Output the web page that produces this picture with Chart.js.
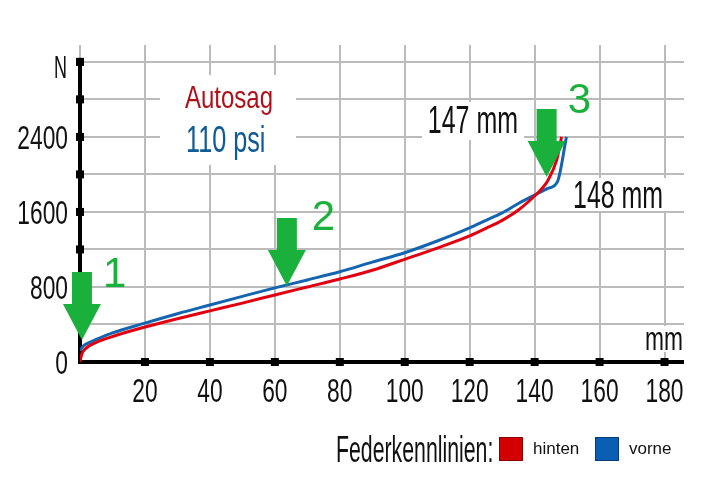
<!DOCTYPE html>
<html>
<head>
<meta charset="utf-8">
<script src="https://cdn.jsdelivr.net/npm/chart.js@4/dist/chart.umd.min.js"></script>
<style>
    body { margin: 0; background: #fff; }
    #chart { display: block; }
</style>
</head>
<body>
<canvas id="chart" width="712" height="483"></canvas>
<script>
/* ========================================
   Federkennlinien - hinten / vorne
   ======================================== */

// Federweg (mm) und Kraft (N), hinten
const hintenMm = [0, 0.5, 1.5, 3, 5, 10, 20, 30, 40, 50, 60, 70, 80, 90, 100, 110, 120, 125, 130, 135, 140, 142, 144, 146.8, 148.3];
const hintenN  = [0, 80, 135, 175, 210, 272, 373, 462, 545, 628, 715, 800, 885, 978, 1095, 1215, 1345, 1425, 1510, 1620, 1770, 1840, 1930, 2155, 2400];

// Federweg (mm) und Kraft (N), vorne
const vorneMm = [0, 1, 3, 5, 10, 20, 30, 40, 50, 60, 70, 80, 90, 100, 110, 120, 125, 130, 135, 140, 144, 147, 149.8];
const vorneN  = [120, 170, 210, 240, 310, 415, 515, 608, 700, 790, 875, 962, 1065, 1165, 1290, 1430, 1510, 1590, 1690, 1780, 1850, 1920, 2400];

const seriesLabels = ['hinten', 'vorne'];
const lineColors = ['#e00010', '#1464b0'];
const legendColors = ['#d20000', '#0a5fb4'];

// Achsen
const xTickValues = [20, 40, 60, 80, 100, 120, 140, 160, 180];
const yTickValues = [0, 800, 1600, 2400];
const yUnit = 'N';
const xUnit = 'mm';

// Pfeile (Spitze in Daten-Koordinaten)
const arrowLabels = ['1', '2', '3'];
const arrowMm = [0.6, 63.7, 143.7];
const arrowN = [235, 811, 1973];

const GREEN = '#19b03b';
const SANS = '"Liberation Sans", Arial, sans-serif';

function drawText(ctx, text, x, y, size, color, align, sx) {
    ctx.save();
    ctx.translate(x, y);
    ctx.scale(sx || 1, 1);
    ctx.font = size + 'px ' + SANS;
    ctx.fillStyle = color;
    ctx.textAlign = align || 'left';
    ctx.textBaseline = 'alphabetic';
    ctx.fillText(text, 0, 0);
    ctx.restore();
}

function whiteBox(ctx, x1, y1, x2, y2) {
    ctx.fillStyle = '#ffffff';
    ctx.fillRect(x1, y1, x2 - x1, y2 - y1);
}

function drawArrow(ctx, tx, ty) {
    const sw = 20, hw = 38, hh = 36, sl = 32;
    ctx.fillStyle = GREEN;
    ctx.beginPath();
    ctx.moveTo(tx, ty);
    ctx.lineTo(tx - hw / 2, ty - hh);
    ctx.lineTo(tx - sw / 2, ty - hh);
    ctx.lineTo(tx - sw / 2, ty - hh - sl);
    ctx.lineTo(tx + sw / 2, ty - hh - sl);
    ctx.lineTo(tx + sw / 2, ty - hh);
    ctx.lineTo(tx + hw / 2, ty - hh);
    ctx.closePath();
    ctx.fill();
}

const decorPlugin = {
    id: 'decor',
    beforeDatasetsDraw(chart) {
        const ctx = chart.ctx;
        const xs = chart.scales.x, ys = chart.scales.y;
        const px = v => xs.getPixelForValue(v);
        const py = v => ys.getPixelForValue(v);

        // Textfelder mit weissem Hintergrund
        whiteBox(ctx, 160, 75, 296, 165);
        whiteBox(ctx, 422, 102, 524, 140);
        whiteBox(ctx, 568, 178, 668, 211);
        whiteBox(ctx, 645, 326, 684, 352);

        // Achsenlinien
        ctx.fillStyle = '#000';
        const x0 = px(0), y0 = py(0);
        ctx.fillRect(x0 - 2, py(3200) - 4, 4, y0 - py(3200) + 6);
        ctx.fillRect(x0 - 2, y0 - 2, chart.chartArea.right - x0 + 2, 4);

        // Tick-Quadrate
        ys.ticks.forEach(t => {
            if (t.value > 0) ctx.fillRect(x0 - 4, py(t.value) - 4, 8, 8);
        });
        xs.ticks.forEach(t => {
            if (t.value > 0) ctx.fillRect(px(t.value) - 4, y0 - 4, 8, 8);
        });
    },
    afterDatasetsDraw(chart) {
        const ctx = chart.ctx;
        const xs = chart.scales.x, ys = chart.scales.y;
        const px = v => xs.getPixelForValue(v);
        const py = v => ys.getPixelForValue(v);

        // Pfeile + Nummern
        const offs = [[21, -53], [25, -56], [21, -64]];
        arrowLabels.forEach((lab, i) => {
            const tx = px(arrowMm[i]), ty = py(arrowN[i]);
            drawArrow(ctx, tx, ty);
            drawText(ctx, lab, tx + offs[i][0], ty + offs[i][1], 42, GREEN, 'left', 1);
        });

        // Beschriftungen
        drawText(ctx, 'Autosag', 185, 108, 32, '#b0101a', 'left', 0.75);
        drawText(ctx, '110 psi', 186, 152, 36, '#105a96', 'left', 0.70);
        drawText(ctx, '147 mm', 518, 133, 39, '#111', 'right', 0.64);
        drawText(ctx, '148 mm', 573, 208, 39, '#111', 'left', 0.64);

        // Achsbeschriftungen
        yTickValues.forEach(v => {
            drawText(ctx, String(v), 68, py(v) + 12, 34, '#111', 'right', 0.67);
        });
        drawText(ctx, yUnit, 67, py(3200) + 16, 31, '#111', 'right', 0.58);
        xTickValues.forEach(v => {
            drawText(ctx, String(v), px(v), 402, 34, '#111', 'center', 0.67);
        });
        drawText(ctx, xUnit, 683, 350, 34, '#111', 'right', 0.67);

        // Legende
        drawText(ctx, 'Federkennlinien:', 336, 462, 37, '#111', 'left', 0.575);
        const legX = [499, 595];
        seriesLabels.forEach((lab, i) => {
            ctx.fillStyle = legendColors[i];
            ctx.fillRect(legX[i], 437, 24, 24);
            ctx.strokeStyle = 'rgba(0,0,0,0.35)';
            ctx.lineWidth = 1;
            ctx.strokeRect(legX[i] + 0.5, 437.5, 23, 23);
            drawText(ctx, lab, legX[i] + 34, 454, 17, '#111', 'left', 1);
        });
    }
};

function toPoints(xs, ys) {
    return xs.map((x, i) => ({ x: x, y: ys[i] }));
}

// Gitterlinien in festen Schritten bis zum letzten vollen Schritt
function stepTicks(scale, step) {
    const ticks = [];
    for (let v = 0; v <= scale.max; v += step) ticks.push({ value: v });
    scale.ticks = ticks;
}

function initFederChart() {
    const ctx = document.getElementById('chart');

    const data = {
        datasets: [
            {
                label: seriesLabels[0],
                data: toPoints(hintenMm, hintenN),
                borderColor: lineColors[0],
                borderWidth: 3,
                cubicInterpolationMode: 'monotone',
                pointRadius: 0,
                fill: false
            },
            {
                label: seriesLabels[1],
                data: toPoints(vorneMm, vorneN),
                borderColor: lineColors[1],
                borderWidth: 3,
                cubicInterpolationMode: 'monotone',
                pointRadius: 0,
                fill: false
            }
        ]
    };

    const gridStyle = {
        color: '#bbbbbb',
        lineWidth: 2,
        drawTicks: false
    };

    const config = {
        type: 'line',
        data: data,
        options: {
            responsive: false,
            animation: false,
            devicePixelRatio: 1,
            layout: {
                padding: { left: 80, right: 28, top: 45, bottom: 121 }
            },
            plugins: {
                legend: { display: false },
                tooltip: { enabled: false }
            },
            scales: {
                x: {
                    type: 'linear',
                    min: 0,
                    max: 186,
                    ticks: { display: false },
                    grid: gridStyle,
                    border: { display: false },
                    afterBuildTicks: s => stepTicks(s, 20),
                    afterFit: s => { s.height = 0; }
                },
                y: {
                    type: 'linear',
                    min: 0,
                    max: 3380,
                    ticks: { display: false },
                    grid: gridStyle,
                    border: { display: false },
                    afterBuildTicks: s => stepTicks(s, 400),
                    afterFit: s => { s.width = 0; }
                }
            }
        },
        plugins: [decorPlugin]
    };

    return new Chart(ctx, config);
}

initFederChart();
</script>
</body>
</html>
